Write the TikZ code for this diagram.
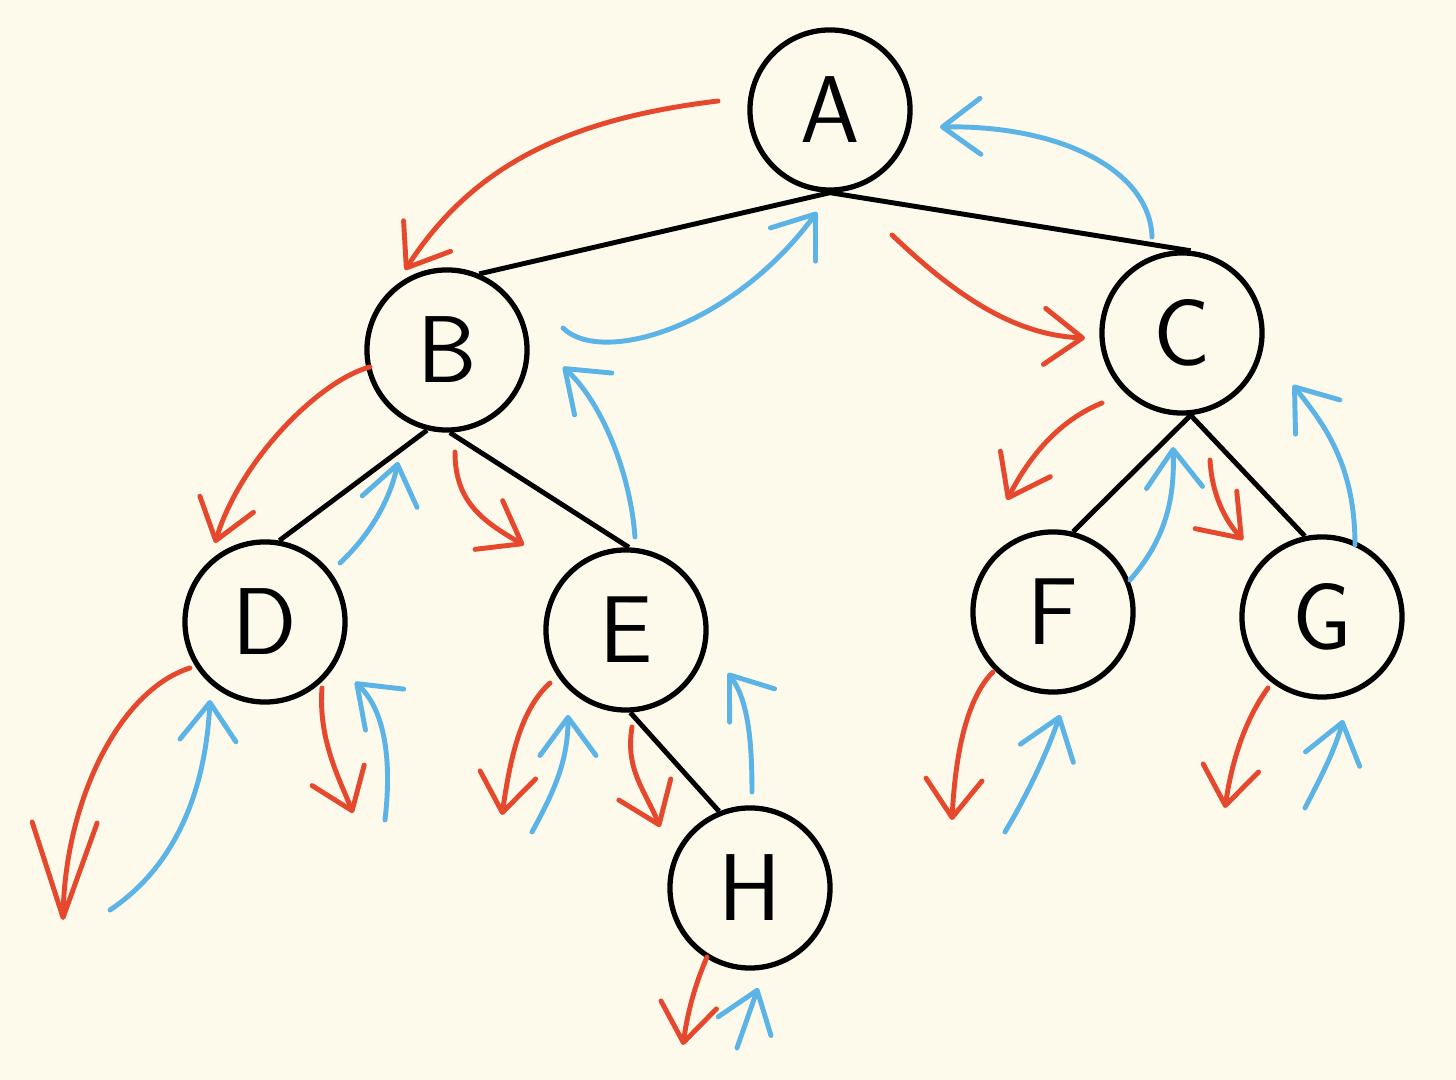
\documentclass[tikz,border=0pt]{standalone}
\usetikzlibrary{arrows.meta}
\definecolor{bgc}{HTML}{FDFAEC}
\definecolor{redc}{HTML}{E5482C}
\definecolor{bluec}{HTML}{5BB3E6}
\begin{document}
\begin{tikzpicture}[x=0.01cm,y=-0.01cm,
  vtx/.style={circle,draw=black,line width=1.5pt,minimum size=1.6cm,inner sep=0pt,
    font=\sffamily\fontsize{27}{27}\selectfont},
  tedge/.style={draw=black,line width=1.4pt},
  redarr/.style={draw=redc,line width=1.4pt,line cap=round,
    -{Straight Barb[length=3.8mm,width=5.6mm,round]}},
  bluearr/.style={draw=bluec,line width=1.4pt,line cap=round,
    -{Straight Barb[length=3.8mm,width=5.6mm,round]}},
  bigred/.style={draw=redc,line width=1.4pt,line cap=round,
    -{Straight Barb[length=9.5mm,width=6.5mm,round]}}]
\fill[bgc] (0,0) rectangle (1456,1080);
\useasboundingbox (0,0) rectangle (1456,1080);
% nodes
\node[vtx] (A) at (830,110) {A};
\node[vtx] (B) at (447,350) {B};
\node[vtx] (C) at (1182,333) {C};
\node[vtx] (D) at (265,622) {D};
\node[vtx] (E) at (626,630) {E};
\node[vtx] (F) at (1053,612) {F};
\node[vtx] (G) at (1322,617) {G};
\node[vtx] (H) at (750,888) {H};
% tree edges
\draw[tedge] (A.south) -- (B.67);
\draw[tedge] (A.south) -- (C.84);
\draw[tedge] (B.256) -- (D.80);
\draw[tedge] (B.272) -- (E.88);
\draw[tedge] (C.276) -- (F.76);
\draw[tedge] (C.276) -- (G.102);
\draw[tedge] (E.273) -- (H.112);
% coordinates of traversal arrows
\coordinate (r1a) at (718,101);  \coordinate (r1b) at (405,270);
\coordinate (r2a) at (892,235);  \coordinate (r2b) at (1085,338);
\coordinate (r3a) at (370,367);  \coordinate (r3b) at (215,543);
\coordinate (r4a) at (455,452);  \coordinate (r4b) at (524,545);
\coordinate (r5a) at (190,668);  \coordinate (r5b) at (63,920);
\coordinate (r6a) at (322,688);  \coordinate (r6b) at (353,813);
\coordinate (r7a) at (550,683);  \coordinate (r7b) at (502,815);
\coordinate (r8a) at (632,727);  \coordinate (r8b) at (660,827);
\coordinate (r9a) at (1102,403); \coordinate (r9b) at (1007,500);
\coordinate (r10a) at (1210,460); \coordinate (r10b) at (1243,540);
\coordinate (r11a) at (993,672); \coordinate (r11b) at (952,820);
\coordinate (r12a) at (1268,688); \coordinate (r12b) at (1225,808);
\coordinate (r13a) at (707,957); \coordinate (r13b) at (683,1045);
\coordinate (b1a) at (1152,237); \coordinate (b1b) at (940,127);
\coordinate (b2a) at (563,328);  \coordinate (b2b) at (817,212);
\coordinate (b3a) at (635,537);  \coordinate (b3b) at (563,367);
\coordinate (b4a) at (340,563);  \coordinate (b4b) at (398,462);
\coordinate (b5a) at (110,910);  \coordinate (b5b) at (210,700);
\coordinate (b6a) at (385,820);  \coordinate (b6b) at (355,682);
\coordinate (b7a) at (532,832);  \coordinate (b7b) at (568,715);
\coordinate (b8a) at (752,792);  \coordinate (b8b) at (728,673);
\coordinate (b9a) at (1130,580); \coordinate (b9b) at (1173,447);
\coordinate (b10a) at (1355,545); \coordinate (b10b) at (1293,385);
\coordinate (b11a) at (1005,832); \coordinate (b11b) at (1060,715);
\coordinate (b12a) at (1305,808); \coordinate (b12b) at (1343,720);
\coordinate (b13a) at (737,1048); \coordinate (b13b) at (758,988);
% red arrows (going down)
\draw[redarr] (r1a) .. controls (560,120) and (470,170) .. (r1b);
\draw[redarr] (r2a) .. controls (950,290) and (1010,335) .. (r2b);
\draw[redarr] (r3a) .. controls (320,380) and (240,460) .. (r3b);
\draw[redarr] (r4a) .. controls (455,500) and (480,520) .. (r4b);
\draw[bigred] (r5a) .. controls (120,690) and (65,800) .. (r5b);
\draw[redarr] (r6a) .. controls (318,740) and (340,780) .. (r6b);
\draw[redarr] (r7a) .. controls (520,710) and (510,760) .. (r7b);
\draw[redarr] (r8a) .. controls (625,770) and (645,790) .. (r8b);
\draw[redarr] (r9a) .. controls (1060,420) and (1030,455) .. (r9b);
\draw[redarr] (r10a) .. controls (1212,495) and (1225,520) .. (r10b);
\draw[redarr] (r11a) .. controls (965,700) and (955,760) .. (r11b);
\draw[redarr] (r12a) .. controls (1245,720) and (1232,760) .. (r12b);
\draw[redarr] (r13a) .. controls (695,985) and (688,1010) .. (r13b);
% blue arrows (going up)
\draw[bluearr] (b1a) .. controls (1150,170) and (1060,125) .. (b1b);
\draw[bluearr] (b2a) .. controls (600,365) and (730,330) .. (b2b);
\draw[bluearr] (b3a) .. controls (630,470) and (600,400) .. (b3b);
\draw[bluearr] (b4a) .. controls (370,535) and (390,500) .. (b4b);
\draw[bluearr] (b5a) .. controls (170,870) and (205,800) .. (b5b);
\draw[bluearr] (b6a) .. controls (392,760) and (385,710) .. (b6b);
\draw[bluearr] (b7a) .. controls (555,790) and (568,760) .. (b7b);
\draw[bluearr] (b8a) .. controls (752,740) and (748,700) .. (b8b);
\draw[bluearr] (b9a) .. controls (1165,540) and (1175,500) .. (b9b);
\draw[bluearr] (b10a) .. controls (1355,460) and (1320,420) .. (b10b);
\draw[bluearr] (b11a) .. controls (1030,790) and (1048,750) .. (b11b);
\draw[bluearr] (b12a) .. controls (1322,775) and (1335,750) .. (b12b);
\draw[bluearr] (b13a) .. controls (745,1025) and (752,1005) .. (b13b);
\end{tikzpicture}
\end{document}
